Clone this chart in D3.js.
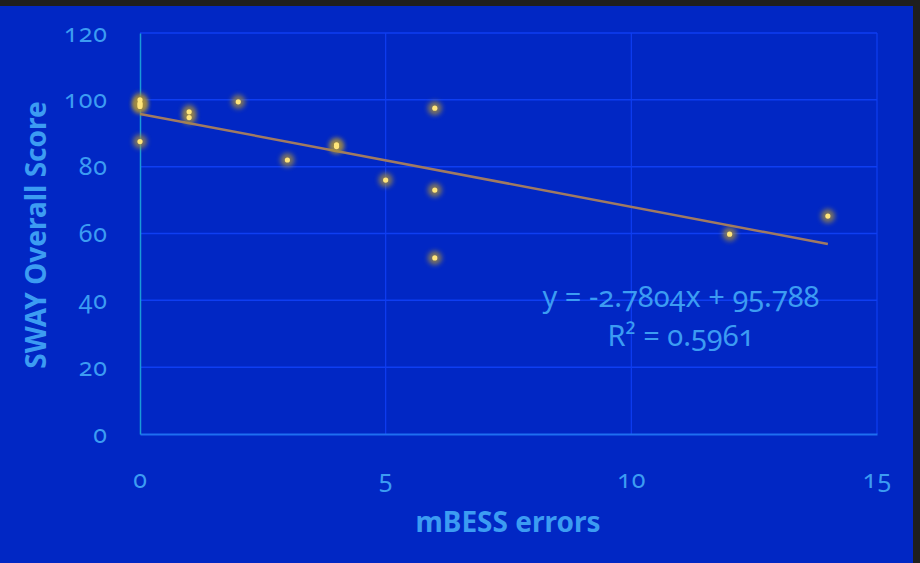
<!DOCTYPE html>
<html>
<head>
<meta charset="utf-8">
<script src="https://cdn.jsdelivr.net/npm/d3@7"></script>
<style>
  html, body { margin: 0; padding: 0; background: #1f1f1f; }
  svg { display: block; }
  text { font-family: "Noto Sans", "Open Sans", sans-serif; fill: #3c9cf2; font-variant-numeric: oldstyle-nums; }
  .title { font-weight: bold; font-size: 28px; }
  .tick text { font-size: 25px; letter-spacing: 1px; }
  .eq { font-size: 29px; }
</style>
</head>
<body>
<svg id="chart"></svg>
<script>
// mBESS errors vs SWAY overall score
var mbess = [0, 0, 0, 0, 0, 1, 1, 2, 3, 4, 4, 5, 6, 6, 6, 12, 14];
var sway  = [100, 99, 98.5, 98, 87.5, 96.4, 94.7, 99.4, 82, 86.5, 86, 76, 97.5, 73, 52.7, 59.8, 65.2];
var xTicks = [0, 5, 10, 15];
var yTicks = [0, 20, 40, 60, 80, 100, 120];
var trend = {slope: -2.7804, intercept: 95.788, r2: 0.5961, xFrom: 0, xTo: 14};
var eqLabels = ["y = -2.7804x + 95.788", "R\u00B2 = 0.5961"];

window.onload = function() {
	var W = 920, H = 563;
	var plot = {left: 140, right: 877, top: 33, bottom: 434};

	var svg = d3.select("#chart").attr("width", W).attr("height", H);

	// dark frame + blue panel
	svg.append("rect").attr("x", 0).attr("y", 0).attr("width", W).attr("height", H).attr("fill", "#1f1f1f");
	svg.append("rect").attr("x", 0).attr("y", 6).attr("width", 913).attr("height", H - 6).attr("fill", "#0127c4");

	var x = d3.scaleLinear().domain([0, 15]).range([plot.left, plot.right]);
	var y = d3.scaleLinear().domain([0, 120]).range([plot.bottom, plot.top]);

	var defs = svg.append("defs");
	defs.append("filter").attr("id", "glow").attr("x", "-100%").attr("y", "-100%").attr("width", "300%").attr("height", "300%")
		.append("feGaussianBlur").attr("stdDeviation", 2.5);

	// gridlines
	var grid = svg.append("g").attr("class", "grid");
	grid.selectAll(".hgrid").data(yTicks.filter(function(d) { return d > 0; }))
		.enter().append("line")
		.attr("x1", plot.left).attr("x2", plot.right)
		.attr("y1", function(d) { return y(d); }).attr("y2", function(d) { return y(d); })
		.attr("stroke", "#0f3ef2").attr("stroke-width", 1.5);
	grid.selectAll(".vgrid").data(xTicks.filter(function(d) { return d > 0; }))
		.enter().append("line")
		.attr("y1", plot.top).attr("y2", plot.bottom)
		.attr("x1", function(d) { return x(d); }).attr("x2", function(d) { return x(d); })
		.attr("stroke", "#0f3ef2").attr("stroke-width", 1.2);

	// axes
	var xAxis = svg.append("g").attr("transform", "translate(0," + plot.bottom + ")")
		.call(d3.axisBottom(x).tickValues(xTicks).tickSize(0).tickPadding(36));
	xAxis.select(".domain").attr("stroke", "#1e6ff0").attr("stroke-width", 2);

	var yAxis = svg.append("g").attr("transform", "translate(" + plot.left + ",0)")
		.call(d3.axisLeft(y).tickValues(yTicks).tickSize(0).tickPadding(32));
	yAxis.select(".domain").attr("stroke", "#1a9ad8").attr("stroke-width", 1.5);
	svg.selectAll(".tick text").attr("fill", "#3c9cf2");

	// trendline
	svg.append("line")
		.attr("x1", x(trend.xFrom)).attr("y1", y(trend.intercept + trend.slope * trend.xFrom))
		.attr("x2", x(trend.xTo)).attr("y2", y(trend.intercept + trend.slope * trend.xTo))
		.attr("stroke", "#a07a62").attr("stroke-width", 2.5);

	// points with glow
	var pts = mbess.map(function(d, i) { return {x: d, y: sway[i]}; });
	var dots = svg.append("g");
	dots.selectAll(".halo").data(pts).enter().append("circle")
		.attr("cx", function(d) { return x(d.x); }).attr("cy", function(d) { return y(d.y); })
		.attr("r", 7).attr("fill", "#a8903e").attr("opacity", 0.75).attr("filter", "url(#glow)");
	dots.selectAll(".dot").data(pts).enter().append("circle")
		.attr("cx", function(d) { return x(d.x); }).attr("cy", function(d) { return y(d.y); })
		.attr("r", 2.6).attr("fill", "#ffe57a");

	// equation
	svg.selectAll(".eq").data(eqLabels).enter().append("text")
		.attr("class", "eq")
		.attr("x", 681).attr("y", function(d, i) { return 307 + i * 39; })
		.attr("text-anchor", "middle")
		.text(function(d) { return d; });

	// axis titles
	svg.append("text").attr("class", "title")
		.attr("x", 508).attr("y", 532).attr("text-anchor", "middle")
		.text("mBESS errors");
	svg.append("text").attr("class", "title")
		.attr("transform", "translate(46,235) rotate(-90)").attr("text-anchor", "middle")
		.text("SWAY Overall Score");
}
</script>
</body>
</html>
